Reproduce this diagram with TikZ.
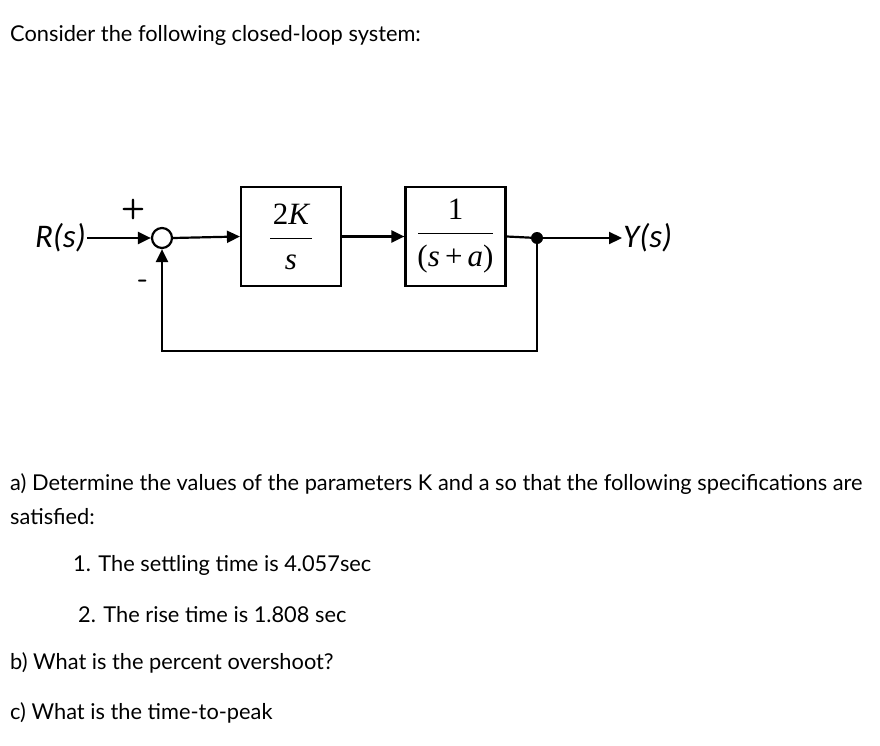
\documentclass[tikz,border=0pt]{standalone}
\usepackage{fontspec}
\setmainfont{Lato}
\newfontfamily\tms{Liberation Serif}
\newfontfamily\carl{Carlito}
\usetikzlibrary{arrows.meta}
\begin{document}
\begin{tikzpicture}[x=1pt,y=-1pt,
  txt/.style={anchor=west,inner sep=0pt,font=\fontsize{21.8}{25}\selectfont},
  blk/.style={draw,line width=2.2pt,minimum width=100pt,minimum height=99pt,inner sep=0pt},
  sig/.style={line width=2.2pt,-{Triangle[length=13pt,width=12pt]}},
  ln/.style={line width=2.2pt},
  lbl/.style={inner sep=1pt,font=\carl\itshape\fontsize{33}{36}\selectfont}]
\useasboundingbox (0,0) rectangle (880,746);
\node[txt] (t0) at (10,35) {Consider the following closed-loop system:};
\node[lbl,anchor=east] (R) at (87,238) {R(s)};
\node[draw,circle,line width=2.2pt,minimum size=20pt,inner sep=0pt] (sum) at (162,238) {};
\node[font=\sffamily\bfseries\fontsize{28}{28}\selectfont,inner sep=0pt] (p) at (133,209) {+};
\node[font=\sffamily\bfseries\fontsize{28}{28}\selectfont,inner sep=0pt] (m) at (143,284) {-};
\node[blk] (b1) at (291,236.5) {};
\node[blk] (b2) at (455.5,236.5) {};
\node[font=\tms\itshape\fontsize{31}{33}\selectfont,inner sep=0pt] (n1) at (291,214) {\upshape2\itshape K};
\draw[line width=1pt] (270,238) -- (312,238);
\node[font=\tms\itshape\fontsize{31}{33}\selectfont,inner sep=0pt] (d1) at (291,262) {s};
\node[font=\tms\fontsize{31}{33}\selectfont,inner sep=0pt] (n2) at (455.5,209) {1};
\draw[line width=1pt] (418,233) -- (493,233);
\node[font=\tms\fontsize{31}{33}\selectfont,inner sep=0pt] (d2) at (455.5,259) {(\textit{s}\,+\,\textit{a})};
\coordinate (dot) at (537,238);
\fill (dot) circle (6pt);
\node[lbl,anchor=west] (Y) at (622,238) {Y(s)};
\draw[sig] (R.east) -- (sum.west);
\draw[sig] (sum.east) -- (b1.west);
\draw[sig] (b1.east) -- (b2.west);
\draw[ln] (b2.east) -- (dot);
\draw[sig] (dot) -- (Y.west);
\draw[sig] (dot) -- (537,351) -- (162,351) -- (sum.south);
\node[txt] (a) at (10,484) {a) Determine the values of the parameters K and a so that the following specifications are};
\node[txt] (a2) at (10,517) {satisfied:};
\node[txt] (s1) at (73,565) {1. The settling time is 4.057sec};
\node[txt] (s2) at (78,615) {2. The rise time is 1.808 sec};
\node[txt] (b) at (10,663) {b) What is the percent overshoot?};
\node[txt] (c) at (10,713) {c) What is the time-to-peak};
\end{tikzpicture}
\end{document}
